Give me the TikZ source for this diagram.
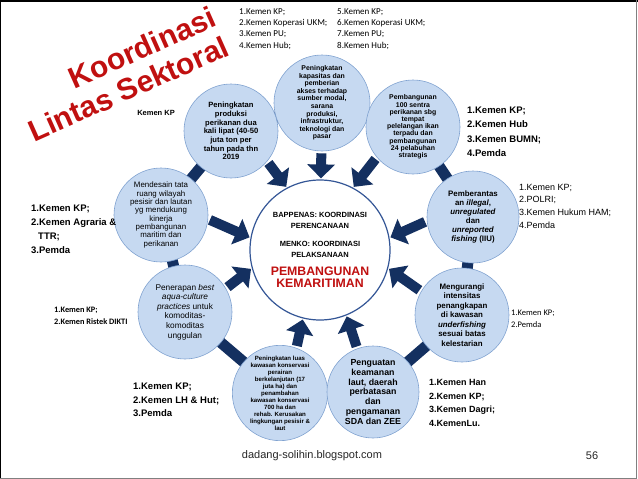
\documentclass[tikz,border=0pt]{standalone}
\usepackage{fontspec}
\setmainfont{Liberation Sans}
\newfontfamily\calibri{Carlito}
\usepackage{xcolor}
\usetikzlibrary{arrows.meta}
\usetikzlibrary{backgrounds}
\usetikzlibrary{positioning}

\definecolor{circfill}{RGB}{198,217,241}
\definecolor{circline}{RGB}{128,162,208}
\definecolor{hubline}{RGB}{52,86,150}
\definecolor{navy}{RGB}{20,48,96}
\definecolor{titlered}{RGB}{192,16,16}
\newcommand{\fsz}[2]{\fontsize{#1}{#2}\selectfont}

\begin{document}
\begin{tikzpicture}[x=1pt,y=-1pt]
	\tikzstyle{goal}=[circle, fill=circfill, draw=circline, line width=0.6pt, inner sep=0pt, align=center]
	\tikzstyle{hub}=[circle, fill=white, draw=hubline, line width=1.2pt, inner sep=0pt, minimum size=140]
	\tikzstyle{link}=[draw=navy, line width=11pt]
	\tikzstyle{push}=[draw=navy, line width=10pt, -{Triangle[length=14pt,width=27pt]}, shorten <=2pt, shorten >=1pt]
	\tikzstyle{agency}=[anchor=west, align=left, inner sep=0pt]
	\useasboundingbox (0,0) rectangle (638,479);
	\draw[black, line width=1.5pt] (0,479) -- (0,0.75) -- (638,0.75);
	\draw[gray, line width=1pt] (636,0) -- (636,478) -- (0,478);

	\node[text=titlered, rotate=24, align=right, font=\fsz{30}{32}\bfseries] (title) at (122,74) {Koordinasi\\Lintas Sektoral};

	\node[hub] (mid) at (320,250) {\begin{tabular}{@{}c@{}}
		\fsz{7.5}{9.5}\bfseries BAPPENAS: KOORDINASI\\[-1pt]
		\fsz{7.5}{9.5}\bfseries PERENCANAAN\\[6pt]
		\fsz{7.5}{9.5}\bfseries MENKO: KOORDINASI\\[-1pt]
		\fsz{7.5}{9.5}\bfseries PELAKSANAAN\\[6pt]
		\fsz{12.3}{14.5}\bfseries\color{titlered} PEMBANGUNAN\\[-1pt]
		\fsz{12.3}{14.5}\bfseries\color{titlered} KEMARITIMAN
	\end{tabular}};

	\node[goal, minimum size=96, font=\fsz{6.9}{7.6}\bfseries] (top) at (322,103) {Peningkatan\\kapasitas dan\\pemberian\\akses terhadap\\sumber modal,\\sarana\\produksi,\\infrastruktur,\\teknologi dan\\pasar};
	\node[goal, minimum size=94, font=\fsz{7.6}{8.7}\bfseries] (ul) at (231,131) {Peningkatan\\produksi\\perikanan dua\\kali lipat (40-50\\juta ton per\\tahun pada thn\\2019};
	\node[goal, minimum size=94, font=\fsz{6.9}{7.2}\bfseries] (ur) at (413,127) {Pembangunan\\100 sentra\\perikanan sbg\\tempat\\pelelangan ikan\\terpadu dan\\pembangunan\\24 pelabuhan\\strategis};
	\node[goal, minimum size=94, font=\fsz{7.9}{8.3}] (l) at (161,215) {Mendesain tata\\ruang wilayah\\pesisir dan lautan\\yg mendukung\\kinerja\\pembangunan\\maritim dan\\perikanan};
	\node[goal, minimum size=92, font=\fsz{7.9}{9}\bfseries] (r) at (473,217) {Pemberantas\\an \textit{illegal},\\\textit{unregulated}\\dan\\\textit{unreported}\\\textit{fishing} (IIU)};
	\node[goal, minimum size=94, font=\fsz{8.3}{9.6}] (ll) at (185,312) {Penerapan \textit{best}\\\textit{aqua-culture}\\\textit{practices} untuk\\komoditas-\\komoditas\\unggulan};
	\node[goal, minimum size=94, font=\fsz{7.9}{9.5}\bfseries] (lr) at (462,315) {Mengurangi\\intensitas\\penangkapan\\di kawasan\\\textit{underfishing}\\sesuai batas\\kelestarian};
	\node[goal, minimum size=94, font=\fsz{6.1}{7}\bfseries] (bl) at (280,393) {Peningkatan luas\\kawasan konservasi\\perairan\\berkelanjutan (17\\juta ha) dan\\penambahan\\kawasan konservasi\\700 ha dan\\rehab. Kerusakan\\lingkungan pesisir \&\\laut};
	\node[goal, minimum size=92, font=\fsz{8.8}{9.8}\bfseries] (br) at (373,392) {Penguatan\\keamanan\\laut, daerah\\perbatasan\\dan\\pengamanan\\SDA dan ZEE};

	\begin{scope}[on background layer]
		\draw[link] (top.center) -- (ur.center) -- (r.center) -- (lr.center) -- (br.center) -- (bl.center) -- (ll.center) -- (l.center) -- (ul.center) -- cycle;
	\end{scope}

	\draw[push] (top) -- (mid);
	\draw[push] (ul.-40) -- (mid.118);
	\draw[push] (ur.-140) -- (mid.62);
	\draw[push] (l.-5) -- (mid.170);
	\draw[push] (r.185) -- (mid.10);
	\draw[push] (ll.30) -- (mid.195);
	\draw[push] (lr.150) -- (mid.-15);
	\draw[push] (bl.70) -- (mid.256);
	\draw[push] (br.110) -- (mid.-68);

	\node[agency, font=\calibri\fsz{9}{11.3}] (ktop1) at (239,29) {1.Kemen KP;\\2.Kemen Koperasi UKM;\\3.Kemen PU;\\4.Kemen Hub;};
	\node[agency, font=\calibri\fsz{9}{11.3}] (ktop2) at (337,29) {5.Kemen KP;\\6.Kemen Koperasi UKM;\\7.Kemen PU;\\8.Kemen Hub;};
	\node[anchor=east, inner sep=0pt, font=\fsz{7.5}{9}\bfseries] (kul) at (175,113) {Kemen KP};
	\node[agency, font=\fsz{9.5}{14.5}\bfseries] (kur) at (467,132) {1.Kemen KP;\\2.Kemen Hub\\3.Kemen BUMN;\\4.Pemda};
	\node[agency, font=\fsz{9.5}{14}\bfseries] (kl) at (31,229) {1.Kemen KP;\\2.Kemen Agraria \&\\\hspace*{7pt}TTR;\\3.Pemda};
	\node[agency, font=\fsz{9}{12.7}] (kr) at (519,206) {1.Kemen KP;\\2.POLRI;\\3.Kemen Hukum HAM;\\4.Pemda};
	\node[agency, font=\calibri\fsz{8.3}{12}\bfseries] (kll) at (54,316) {1.Kemen KP;\\2.Kemen Ristek DIKTI};
	\node[agency, font=\calibri\fsz{8.5}{12}] (klr) at (511,319) {1.Kemen KP;\\2.Pemda};
	\node[agency, font=\fsz{9.5}{13.5}\bfseries] (kbl) at (133,400) {1.Kemen KP;\\2.Kemen LH \& Hut;\\3.Pemda};
	\node[agency, font=\fsz{9}{13.8}\bfseries] (kbr) at (429,403) {1.Kemen Han\\2.Kemen KP;\\3.Kemen Dagri;\\4.KemenLu.};

	\node[font=\fsz{11}{13}, text=black!85] (url) at (312,456) {dadang-solihin.blogspot.com};
	\node[font=\fsz{11}{13}, text=black!85] (page) at (592,456) {56};
\end{tikzpicture}
\end{document}
